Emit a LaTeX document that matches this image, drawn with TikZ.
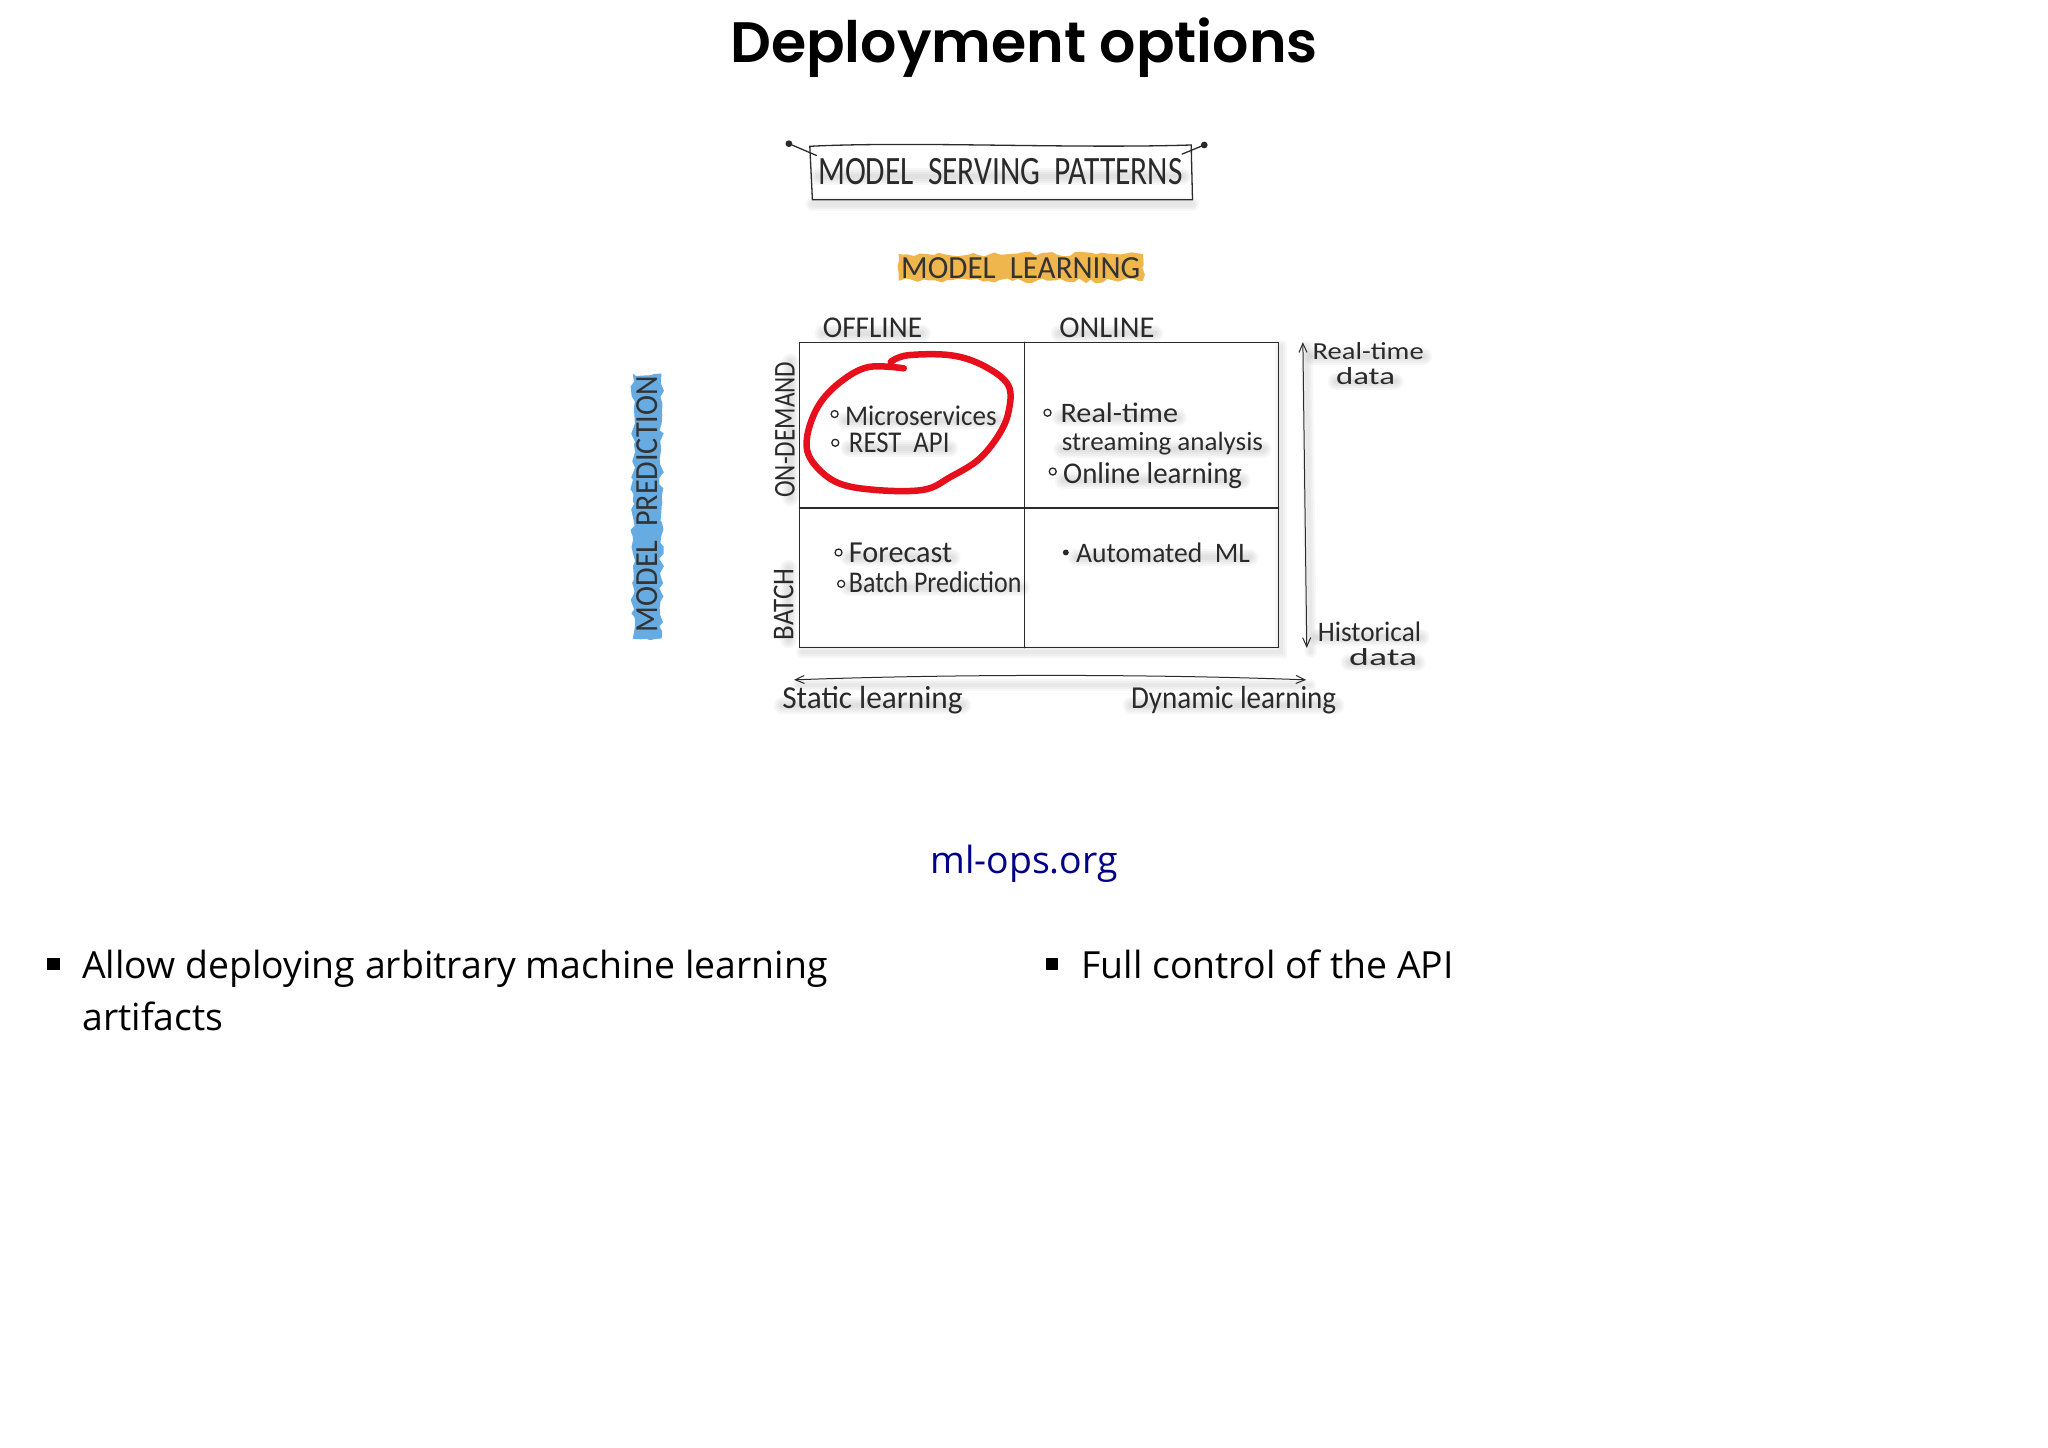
\documentclass[tikz,border=0pt]{standalone}
\usepackage{fontspec}
\usepackage{graphicx}
\usetikzlibrary{arrows.meta,decorations.pathmorphing,calc}
\setmainfont{Open Sans}
\newfontfamily\ttlfont{Poppins}[BoldFont={Poppins SemiBold}]
\newfontfamily\handfont{Carlito}
\newlength{\hwu}\setlength{\hwu}{1.30612pt}
\definecolor{ink}{HTML}{2A2A2A}
\definecolor{linkc}{HTML}{000088}
\definecolor{hlorange}{HTML}{F0B64E}
\definecolor{hlblue}{HTML}{66ACE2}
\definecolor{redpen}{HTML}{E60F1B}
\tikzset{
  hand/.style={inner sep=0pt,outer sep=0pt,text=ink},
  bodytext/.style={inner sep=0pt,outer sep=0pt,anchor=base west,font=\fontsize{37.4}{46}\selectfont,text=black},
  penline/.style={draw=ink,line width=1.3pt,line cap=round},
  softshadow/.style={draw=black,opacity=0.032,line cap=round},
  dotmark/.style={draw=ink,line width=1.3pt,fill=white,circle,minimum size=7pt,inner sep=0pt},
  sqmark/.style={fill=black,minimum size=12.5pt,inner sep=0pt},
  barb/.style={{Straight Barb[length=9pt,width=8pt]}-{Straight Barb[length=9pt,width=8pt]}},
}
% \hw{name}{rotation}{cx}{cy}{width}{height}{text}
\newcommand{\hw}[7]{%
  \begin{scope}[shift={(#3,#4)},rotate=#2]
    \foreach \lw in {5,9,13,17}{\draw[softshadow,line width=\lw pt] (-#5/2,4) -- (#5/2,4);}
  \end{scope}
  \node[hand,rotate=#2] (#1) at (#3,#4) {\resizebox{#5\hwu}{#6\hwu}{\handfont #7}};
}
\begin{document}
\begin{tikzpicture}[x=1.30612pt,y=-1.30612pt]
\useasboundingbox (0,0) rectangle (1568,1107.9);
\pgfmathsetseed{7}
% title
\node[inner sep=0pt,anchor=base] (title) at (784,48) {\ttlfont\bfseries\fontsize{57}{64}\selectfont Deployment options};
% title board
\coordinate (pinl) at (604,110);
\coordinate (pinr) at (922,111);
\coordinate (bl1) at (625,119);
\coordinate (br1) at (905,118);
\coordinate (tl) at (620,112);
\coordinate (tr) at (912,111);
\coordinate (bbl) at (622,153);
\coordinate (bbr) at (913,153);
\foreach \lw in {6,10,14}{\draw[softshadow,line width=\lw pt] ($(bbl)+(0,3)$) -- ($(bbr)+(0,3)$);}
\draw[penline] (tl) .. controls (700,108) and (820,114) .. (tr) -- (bbr) -- (bbl) -- cycle;
\draw[penline] (pinl) -- (bl1);
\draw[penline] (pinr) -- (br1);
\fill[ink] (pinl) circle (2.6);
\fill[ink] (pinr) circle (2.6);
\hw{msp}{0}{766}{131}{279}{20}{MODEL\ \ SERVING\ \ PATTERNS}
% highlighters
\fill[hlorange,decorate,decoration={random steps,segment length=6pt,amplitude=2.4pt}] (688,194.5) rectangle (875,215);
\node[hand,text=black!80] (ml) at (781.5,205) {\resizebox{183\hwu}{16\hwu}{\handfont MODEL\ \ LEARNING}};
\fill[hlblue,decorate,decoration={random steps,segment length=6pt,amplitude=2.4pt}] (484.5,286) rectangle (506.5,489);
\node[hand,rotate=90,text=black!80] (mp) at (495.5,386) {\resizebox{196\hwu}{16\hwu}{\handfont MODEL\ \ PREDICTION}};
% grid
\coordinate (g1) at (612,262);
\coordinate (g2) at (784.5,262);
\coordinate (g3) at (979,262);
\coordinate (g4) at (612,389);
\coordinate (g5) at (784.5,389);
\coordinate (g6) at (979,389);
\coordinate (g7) at (612,496);
\coordinate (g8) at (784.5,496);
\coordinate (g9) at (979,496);
\foreach \lw in {4,8,12}{
  \draw[softshadow,line width=\lw pt] ($(g7)+(2,3)$) -- ($(g9)+(2,3)$) -- ($(g3)+(2,3)$);
}
\draw[penline] (g1) -- (g3) -- (g9) -- (g7) -- cycle;
\draw[penline] (g2) -- (g8);
\draw[penline] (g4) -- (g6);
% arrows
\coordinate (ar1) at (997.5,262);
\coordinate (ar2) at (1000.5,496);
\coordinate (ah1) at (608,520.5);
\coordinate (ah2) at (1000,520.5);
\foreach \lw in {4,8,12}{
  \draw[softshadow,line width=\lw pt] ($(ar1)+(3,3)$) -- ($(ar2)+(3,3)$);
  \draw[softshadow,line width=\lw pt] ($(ah1)+(3,4)$) -- ($(ah2)+(3,4)$);
}
\draw[penline,line width=1pt,barb] (ar1) -- (ar2);
\draw[penline,line width=1pt,barb] (ah1) .. controls (730,516) and (880,516) .. (ah2);
% axis labels
\hw{off}{0}{668}{251}{76}{15}{OFFLINE}
\hw{on}{0}{847.5}{251}{73}{15}{ONLINE}
\hw{ond}{90}{601}{329}{104}{15}{ON-DEMAND}
\hw{bat}{90}{600}{462.5}{55}{15}{BATCH}
% cell texts
\hw{ms}{0}{705}{318}{116}{15}{Microservices}
\hw{rest}{0}{688.5}{339}{77}{15}{REST\ \ API}
\hw{rt}{0}{857}{316}{90}{15}{Real-time}
\hw{sa}{0}{890}{340}{154}{14}{streaming analysis}
\hw{ol}{0}{882.5}{364}{137}{16}{Online learning}
\hw{fc}{0}{689.5}{423}{79}{15}{Forecast}
\hw{bp}{0}{716}{446}{132}{16}{Batch Prediction}
\hw{aml}{0}{890.5}{423}{133}{15}{Automated\ \ ML}
\node[dotmark] (d1) at (639,317) {};
\node[dotmark] (d2) at (639.5,339) {};
\node[dotmark] (d3) at (802,316) {};
\node[dotmark] (d4) at (806,361) {};
\node[dotmark] (d5) at (642,423) {};
\node[dotmark] (d6) at (644,447) {};
\node[dotmark,minimum size=4.5pt,fill=ink] (d7) at (816,423) {};
% side labels
\hw{rtd}{0}{1047.5}{269}{85}{13}{Real-time}
\hw{dat1}{0}{1045.5}{288}{45}{13}{data}
\hw{hist}{0}{1048.5}{484}{79}{15}{Historical}
\hw{dat2}{0}{1059}{503}{52}{13}{data}
\hw{stat}{0}{668}{536}{138}{17}{Static learning}
\hw{dyn}{0}{944.5}{536}{157}{17}{Dynamic learning}
% red circle
\draw[redpen,line width=6.5pt,line cap=round,line join=round]
  plot[smooth,tension=0.6] coordinates {(682,277) (695,272) (728,272) (753,280) (772,295) (772,316) (764,334) (749,352) (728,365) (707,375) (669,375) (640,369) (621,352) (618,334) (627,310) (644,292) (665,281) (692,282)};
% link
\node[inner sep=0pt,anchor=base,text=linkc,font=\fontsize{37.4}{46}\selectfont] (link) at (784,669) {ml-ops.org};
% bullets
\node[sqmark] (s1) at (41,738) {};
\node[bodytext] (b1) at (63,749) {Allow deploying arbitrary machine learning};
\node[bodytext] (b1b) at (63,789) {artifacts};
\node[sqmark] (s2) at (805.5,738) {};
\node[bodytext] (b2) at (828,749) {Full control of the API};
\end{tikzpicture}
\end{document}
